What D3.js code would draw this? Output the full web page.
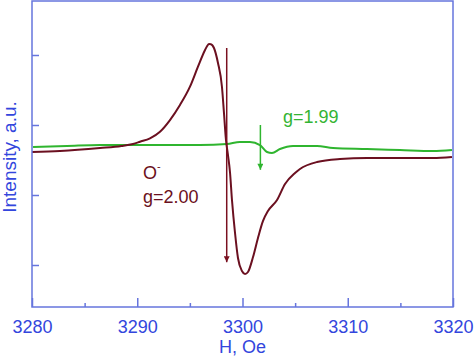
<!DOCTYPE html>
<html><head><meta charset="utf-8">
<script src="https://cdn.jsdelivr.net/npm/d3@7"></script>
<style>body{margin:0;background:#fff}svg{display:block}</style>
</head><body>
<svg id="c" width="474" height="356"></svg>
<script>
// O- signal (dark red): field H (Oe) and intensity (a.u.)
const redH = [3280,3282.66,3286.46,3288.5,3289.60,3290.26,3291.21,3292.16,3293.11,3294.06,3295.01,3295.77,3296.44,3296.63,3296.82,3297.0,3297.29,3297.67,3298.05,3298.24,3298.43,3298.62,3298.81,3299.00,3299.29,3299.57,3299.95,3300.24,3300.52,3301.00,3301.47,3301.95,3302.42,3303.28,3304.04,3304.99,3305.46,3307.08,3309.26,3311.83,3314.96,3318.10,3319.90];
const redI = [1.614,1.629,1.671,1.700,1.729,1.761,1.810,1.904,2.071,2.286,2.547,2.833,3.071,3.125,3.157,3.155,3.100,2.886,2.543,2.171,1.786,1.571,1.329,0.929,0.457,0.100,-0.086,-0.129,-0.100,0.114,0.386,0.629,0.771,0.929,1.157,1.314,1.371,1.471,1.514,1.529,1.529,1.529,1.543];
// g=1.99 signal (green)
const greenH = [3280.1,3283.33,3286.46,3289.60,3292.83,3295.96,3298.53,3299.76,3300.71,3301.66,3302.33,3302.80,3303.56,3304.80,3307.08,3308.60,3311.83,3314.96,3318.10,3319.90];
const greenI = [1.686,1.700,1.714,1.714,1.714,1.714,1.729,1.757,1.757,1.714,1.614,1.600,1.657,1.700,1.700,1.671,1.657,1.643,1.629,1.643];
const xTicks = [3280,3290,3300,3310,3320];
const xMinor = [3285,3295,3305,3315];
const yTicks = [0,1,2,3];
// annotations (data units)
const arrowRed = {h:3298.5, from:3.1, to:0.04};
const arrowGreen = {h:3301.7, from:2.0, to:1.36};
const labels = [
  {h:3290.55, v:1.229, text:"O", sup:"-", color:"#6b1020"},
  {h:3290.55, v:0.886, text:"g=2.00", color:"#6b1020"},
  {h:3303.85, v:2.03, text:"g=1.99", color:"#33b433"}
];

const svg = d3.select("#c");
const L=32, R=453, T=1, B=307;
const x = d3.scaleLinear().domain([3280,3320]).range([L,R]);
const y = d3.scaleLinear().domain([0,3]).range([265,55]);
const axisCol="#6675dd", textCol="#3346dd";
const font="'Liberation Sans', Arial, sans-serif";

const line = d3.line().x(d=>x(d[0])).y(d=>y(d[1])).curve(d3.curveMonotoneX);
svg.append("path").datum(greenH.map((h,i)=>[h,greenI[i]]))
  .attr("d",line).attr("fill","none").attr("stroke","#2fb52f").attr("stroke-width",2);
svg.append("path").datum(redH.map((h,i)=>[h,redI[i]]))
  .attr("d",line).attr("fill","none").attr("stroke","#6b1020").attr("stroke-width",2);

// arrows
const defs = svg.append("defs");
function marker(id,col){
  defs.append("marker").attr("id",id).attr("viewBox","0 0 10 10").attr("refX",10).attr("refY",5)
   .attr("orient","auto").attr("markerUnits","userSpaceOnUse")
   .attr("markerWidth",10).attr("markerHeight",6)
   .append("path").attr("d","M0,0L10,5L0,10Z").attr("fill",col);
}
marker("mr","#7a1020"); marker("mg","#2fb52f");
[[arrowRed,"#7a1020","mr"],[arrowGreen,"#2fb52f","mg"]].forEach(([a,c,m])=>{
  svg.append("line").attr("x1",x(a.h)).attr("x2",x(a.h)).attr("y1",y(a.from)).attr("y2",y(a.to))
    .attr("stroke",c).attr("stroke-width",1.5).attr("marker-end",`url(#${m})`);
});

// labels
labels.forEach(l=>{
  const t = svg.append("text").attr("x",x(l.h)).attr("y",y(l.v)).attr("fill",l.color)
    .attr("font-family",font).attr("font-size",18).text(l.text);
  if(l.sup) t.append("tspan").attr("dy",-9).attr("font-size",11).text(l.sup);
});

// frame
svg.append("rect").attr("x",L).attr("y",T).attr("width",R-L).attr("height",B-T)
  .attr("fill","none").attr("stroke",axisCol).attr("stroke-width",1.5);

// x axis
const xa = svg.append("g").attr("transform",`translate(0,${B})`)
  .call(d3.axisBottom(x).tickValues(xTicks).tickSizeInner(-9).tickSizeOuter(0).tickPadding(13).tickFormat(d3.format("d")));
xa.select(".domain").remove();
xa.selectAll("line").attr("stroke",axisCol).attr("stroke-width",1.5);
xa.selectAll("text").attr("fill",textCol).attr("font-family",font).attr("font-size",18);
const xm = svg.append("g").attr("transform",`translate(0,${B})`)
  .call(d3.axisBottom(x).tickValues(xMinor).tickSizeInner(-4).tickSizeOuter(0).tickFormat(""));
xm.select(".domain").remove();
xm.selectAll("line").attr("stroke",axisCol).attr("stroke-width",1.5);

// y axis ticks (no labels)
const ya = svg.append("g").attr("transform",`translate(${L},0)`)
  .call(d3.axisLeft(y).tickValues(yTicks).tickSizeInner(-7).tickSizeOuter(0).tickFormat(""));
ya.select(".domain").remove();
ya.selectAll("line").attr("stroke",axisCol).attr("stroke-width",1.5);

// axis titles
svg.append("text").attr("x",(L+R)/2).attr("y",353).attr("text-anchor","middle")
  .attr("fill",textCol).attr("font-family",font).attr("font-size",18).text("H, Oe");
svg.append("text").attr("transform","translate(16,157) rotate(-90)").attr("text-anchor","middle")
  .attr("fill",textCol).attr("font-family",font).attr("font-size",19).text("Intensity, a.u.");
</script>
</body></html>
